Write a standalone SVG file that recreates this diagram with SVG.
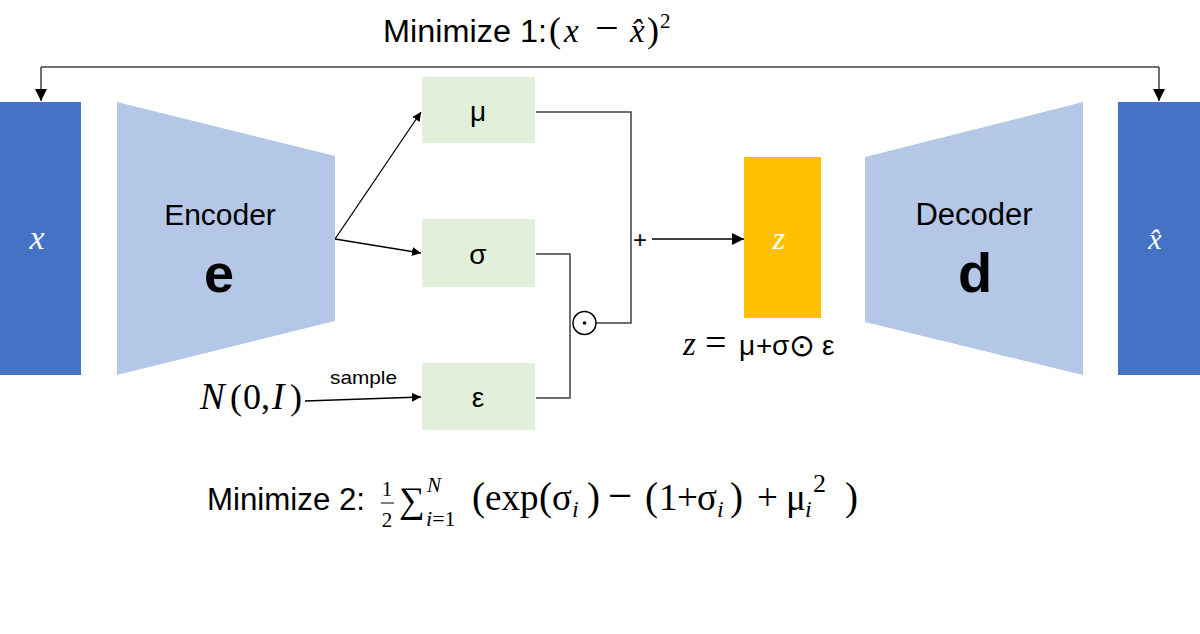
<svg xmlns="http://www.w3.org/2000/svg" width="1200" height="634" viewBox="0 0 1200 634">
<defs>
<marker id="ah" viewBox="0 0 10 10" refX="10" refY="5" markerWidth="9" markerHeight="9" markerUnits="userSpaceOnUse" orient="auto">
<path d="M0,0 L10,5 L0,10 z" fill="#000"/>
</marker>
<marker id="ahb" viewBox="0 0 10 10" refX="10" refY="5" markerWidth="12" markerHeight="12" markerUnits="userSpaceOnUse" orient="auto">
<path d="M0,0 L10,5 L0,10 z" fill="#000"/>
</marker>
</defs>
<style>
.sans{font-family:"Liberation Sans","Open Sans",sans-serif;fill:#000}
.serif{font-family:"Liberation Serif","DejaVu Serif",serif;fill:#000}
.dv{font-family:"DejaVu Sans",sans-serif}
.it{font-style:italic}
.wh{fill:#fff}
.blue{fill:#4472C4}
.light{fill:#B4C7E7}
.green{fill:#E2EFDA}
.ln{fill:none;stroke:#000;stroke-width:1.3}
.lg{fill:none;stroke:#404040;stroke-width:1.5}
</style>
<rect width="1200" height="634" fill="#fff"/>

<g id="title1">
<text class="sans" x="383" y="42" font-size="31" textLength="164" lengthAdjust="spacingAndGlyphs">Minimize 1:</text>
<text class="serif" y="42" font-size="33"><tspan x="549" font-size="36">(</tspan><tspan x="564" class="it">x</tspan><tspan x="595" font-size="42">−</tspan><tspan x="630" class="it">x̂</tspan><tspan x="647" font-size="36">)</tspan><tspan x="660" y="28" font-size="21">2</tspan></text>
</g>

<g id="connectors">
<path class="lg" d="M41,67 H1159"/>
<path class="lg" d="M41,67 V101" marker-end="url(#ahb)"/>
<path class="lg" d="M1159,67 V101" marker-end="url(#ahb)"/>
<path class="ln" d="M335,239 L421,112" marker-end="url(#ah)"/>
<path class="ln" d="M335,239 L421,253" marker-end="url(#ah)"/>
<path class="ln" d="M305,401 L421,397" marker-end="url(#ah)"/>
<path class="lg" d="M536,112 H631 V323 H596"/>
<path class="lg" d="M536,254 H570 V398 H536"/>
<path class="ln" d="M652,239 L744,239" marker-end="url(#ahb)"/>
<circle cx="584.5" cy="323" r="11.5" fill="none" stroke="#000" stroke-width="1.5"/>
<circle cx="584.5" cy="323" r="1.8" fill="#000"/>
<text class="sans" x="640" y="248" font-size="24" text-anchor="middle">+</text>
<text class="sans" x="330" y="384" font-size="19" textLength="67" lengthAdjust="spacingAndGlyphs">sample</text>
</g>

<g id="x">
<rect class="blue" x="0" y="102" width="81" height="273"/>
<text class="serif it wh" x="37" y="249" font-size="34" text-anchor="middle">x</text>
</g>

<g id="encoder">
<polygon class="light" points="117,102 335,156 335,321 117,375"/>
<text class="sans" x="220" y="225" font-size="30" text-anchor="middle">Encoder</text>
<text class="sans" x="219" y="292" font-size="54" font-weight="bold" text-anchor="middle">e</text>
</g>

<g id="mu">
<rect class="green" x="422" y="77" width="113" height="66"/>
<text class="sans" x="478" y="121" font-size="28" text-anchor="middle">μ</text>
</g>

<g id="sigma">
<rect class="green" x="422" y="219" width="113" height="68"/>
<text class="sans" x="478" y="264" font-size="28" text-anchor="middle">σ</text>
</g>

<g id="epsilon">
<rect class="green" x="422" y="363" width="113" height="67"/>
<text class="sans" x="478" y="407" font-size="28" text-anchor="middle">ε</text>
</g>

<g id="normal">
<text class="serif" y="409" font-size="36"><tspan x="200" class="it" font-size="37">N</tspan><tspan x="230">(</tspan><tspan x="243">0</tspan><tspan x="261">,</tspan><tspan x="272" class="it" font-size="37">I</tspan><tspan x="290">)</tspan></text>
</g>

<g id="z">
<rect x="744" y="157" width="77" height="161" fill="#FFC000"/>
<text class="serif it wh" x="779" y="249" font-size="32" text-anchor="middle">z</text>
<text class="serif" y="355" font-size="33"><tspan x="683" class="it">z</tspan><tspan x="705" font-size="38">=</tspan><tspan x="739" class="sans" font-size="28">μ</tspan><tspan x="756" class="sans" font-size="28">+</tspan><tspan x="772" class="sans" font-size="28">σ</tspan><tspan x="789" y="356" class="dv" font-size="31">⊙</tspan><tspan x="822" y="355" class="sans" font-size="28">ε</tspan></text>
</g>

<g id="decoder">
<polygon class="light" points="865,157 1083,102 1083,375 865,322"/>
<text class="sans" x="974" y="225" font-size="31" text-anchor="middle">Decoder</text>
<text class="sans" x="975" y="292" font-size="56" font-weight="bold" text-anchor="middle">d</text>
</g>

<g id="xhat">
<rect class="blue" x="1118" y="102" width="82" height="273"/>
<text class="serif it wh" x="1155" y="249" font-size="30" text-anchor="middle">x̂</text>
</g>

<g id="title2">
<text class="sans" x="207" y="510" font-size="31" textLength="158" lengthAdjust="spacingAndGlyphs">Minimize 2:</text>
<text class="serif" x="387" y="496" font-size="21" text-anchor="middle">1</text>
<line x1="381" y1="503" x2="394" y2="503" stroke="#000" stroke-width="1"/>
<text class="serif" x="387" y="527" font-size="21" text-anchor="middle">2</text>
<text class="serif" x="399" y="512" font-size="36">∑</text>
<text class="serif it" x="427" y="492" font-size="21">N</text>
<text class="serif" x="426" y="526" font-size="22"><tspan class="it">i</tspan>=1</text>
<text class="serif" y="510" font-size="37"><tspan x="472" font-size="39">(</tspan><tspan x="485">exp</tspan><tspan x="539" font-size="39">(</tspan><tspan x="552">σ</tspan><tspan x="572" y="517" class="it" font-size="24">i</tspan><tspan x="587" y="510" font-size="39">)</tspan><tspan x="608" font-size="43">−</tspan><tspan x="645" font-size="39">(</tspan><tspan x="659">1</tspan><tspan x="677">+</tspan><tspan x="697">σ</tspan><tspan x="717" y="517" class="it" font-size="24">i</tspan><tspan x="730" y="510" font-size="39">)</tspan><tspan x="757">+</tspan><tspan x="786">μ</tspan><tspan x="805" y="517" class="it" font-size="24">i</tspan><tspan x="813" y="492" font-size="26">2</tspan><tspan x="845" y="510" font-size="39">)</tspan></text>
</g>
</svg>
